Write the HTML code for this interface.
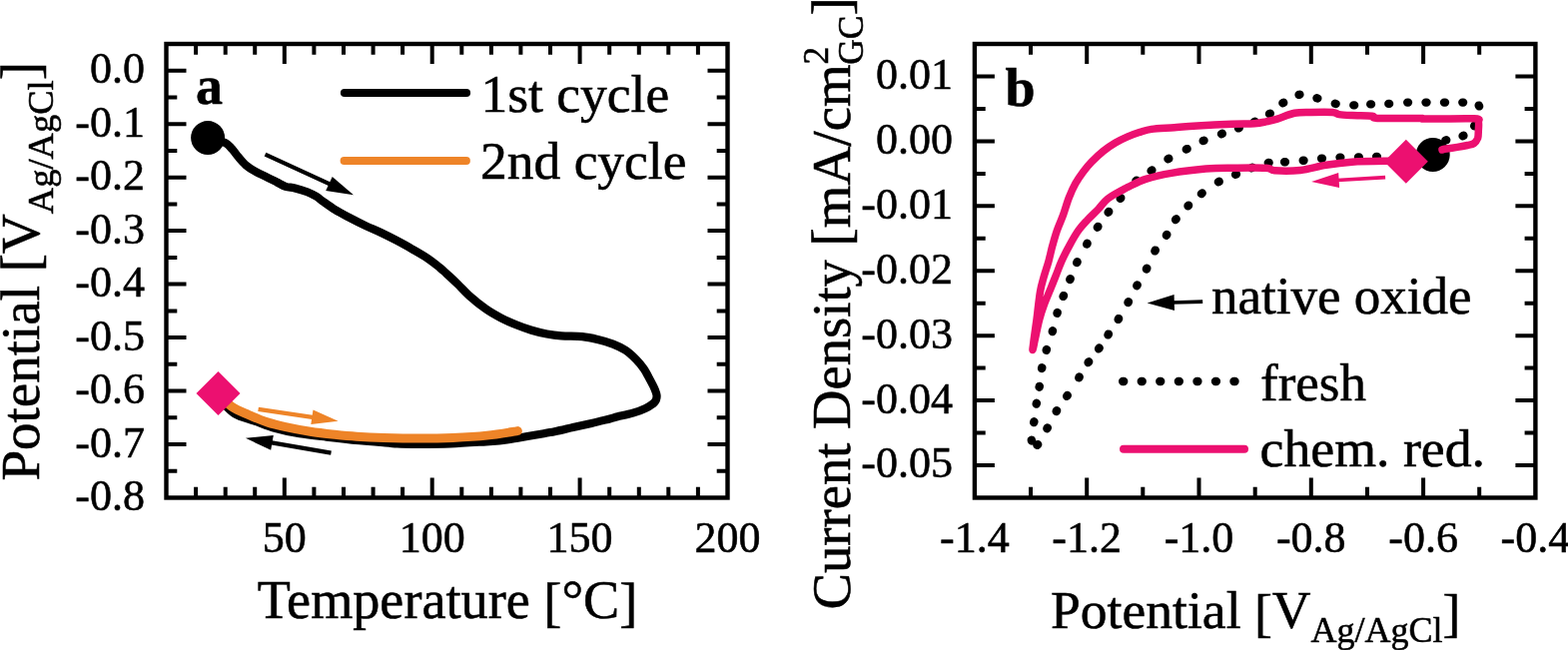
<!DOCTYPE html>
<html><head><meta charset="utf-8"><title>Figure</title>
<style>html,body{margin:0;padding:0;background:#fff;width:1570px;height:651px;overflow:hidden}
svg{display:block}text{font-family:'Liberation Serif','Times New Roman',serif;fill:#000;stroke:#000;stroke-width:0.55px}</style>
</head><body>
<svg width="1570" height="651" viewBox="0 0 1570 651" font-family="'Liberation Serif','Times New Roman',serif">
<path d="M196.1,498.5 v-10.8 M196.1,44 v10.8 M225.7,498.5 v-10.8 M225.7,44 v10.8 M255.2,498.5 v-10.8 M255.2,44 v10.8 M284.8,498.5 v-20 M284.8,44 v20 M314.4,498.5 v-10.8 M314.4,44 v10.8 M344,498.5 v-10.8 M344,44 v10.8 M373.6,498.5 v-10.8 M373.6,44 v10.8 M403.1,498.5 v-10.8 M403.1,44 v10.8 M432.7,498.5 v-20 M432.7,44 v20 M462.3,498.5 v-10.8 M462.3,44 v10.8 M491.9,498.5 v-10.8 M491.9,44 v10.8 M521.4,498.5 v-10.8 M521.4,44 v10.8 M551,498.5 v-10.8 M551,44 v10.8 M580.6,498.5 v-20 M580.6,44 v20 M610.2,498.5 v-10.8 M610.2,44 v10.8 M639.8,498.5 v-10.8 M639.8,44 v10.8 M669.3,498.5 v-10.8 M669.3,44 v10.8 M698.9,498.5 v-10.8 M698.9,44 v10.8 M166.5,70.7 h20 M728.5,70.7 h-20 M166.5,97.5 h10.8 M728.5,97.5 h-10.8 M166.5,124.2 h20 M728.5,124.2 h-20 M166.5,150.9 h10.8 M728.5,150.9 h-10.8 M166.5,177.7 h20 M728.5,177.7 h-20 M166.5,204.4 h10.8 M728.5,204.4 h-10.8 M166.5,231.1 h20 M728.5,231.1 h-20 M166.5,257.9 h10.8 M728.5,257.9 h-10.8 M166.5,284.6 h20 M728.5,284.6 h-20 M166.5,311.4 h10.8 M728.5,311.4 h-10.8 M166.5,338.1 h20 M728.5,338.1 h-20 M166.5,364.8 h10.8 M728.5,364.8 h-10.8 M166.5,391.6 h20 M728.5,391.6 h-20 M166.5,418.3 h10.8 M728.5,418.3 h-10.8 M166.5,445 h20 M728.5,445 h-20 M166.5,471.8 h10.8 M728.5,471.8 h-10.8" stroke="#000" stroke-width="4.0" fill="none"/>
<rect x="166.5" y="44" width="562" height="454.5" fill="none" stroke="#000" stroke-width="4.4"/>
<text x="145" y="83.3" text-anchor="end" font-size="44">0.0</text>
<text x="145" y="136.8" text-anchor="end" font-size="44">-0.1</text>
<text x="145" y="190.3" text-anchor="end" font-size="44">-0.2</text>
<text x="145" y="243.7" text-anchor="end" font-size="44">-0.3</text>
<text x="145" y="297.2" text-anchor="end" font-size="44">-0.4</text>
<text x="145" y="350.7" text-anchor="end" font-size="44">-0.5</text>
<text x="145" y="404.2" text-anchor="end" font-size="44">-0.6</text>
<text x="145" y="457.6" text-anchor="end" font-size="44">-0.7</text>
<text x="145" y="511.1" text-anchor="end" font-size="44">-0.8</text>
<text x="284.8" y="552.5" text-anchor="middle" font-size="44">50</text>
<text x="432.7" y="552.5" text-anchor="middle" font-size="44">100</text>
<text x="580.6" y="552.5" text-anchor="middle" font-size="44">150</text>
<text x="728.5" y="552.5" text-anchor="middle" font-size="44">200</text>
<text x="448" y="619" text-anchor="middle" font-size="54.2">Temperature <tspan dy="2.5">[</tspan><tspan dy="-2.5">°C</tspan><tspan dy="2.5">]</tspan></text>
<text transform="translate(38.5,481.5) rotate(-90)" x="0" y="0" font-size="55">Potential [V<tspan font-size="36.5" dy="14">Ag/AgCl</tspan><tspan dy="-14">]</tspan></text>
<text x="196" y="104" font-size="54" font-weight="bold">a</text>
<path d="M345,93 H467" stroke="#000" stroke-width="8.2" stroke-linecap="round"/>
<path d="M344.5,161 H467" stroke="#EE8428" stroke-width="7.8" stroke-linecap="round"/>
<text x="481.5" y="111.5" font-size="53.5">1st cycle</text>
<text x="481" y="179" font-size="53.5">2nd cycle</text>
<path d="M208.4,138.2 C211.2,139 221.4,141.2 225.4,143 C229.4,144.8 230.1,146.9 232.3,149.2 C234.5,151.5 236.1,154.2 238.4,156.9 C240.7,159.6 243.3,162.9 246.1,165.3 C248.9,167.7 252,169.6 255.3,171.5 C258.6,173.4 262.5,175.1 266.1,176.9 C269.7,178.7 273.5,180.5 276.8,182.2 C280.1,183.8 282.9,185.8 286,186.8 C289.1,187.8 291.7,187.5 295.3,188.4 C298.9,189.3 304,190.8 307.6,192.2 C311.2,193.6 314.2,195.3 316.8,196.8 C319.4,198.3 319.8,199.2 322.9,201.4 C326,203.6 330.8,207.2 335.4,210 C340,212.8 345.6,215.7 350.7,218.4 C355.8,221.1 361,223.7 366.1,226.1 C371.2,228.5 376.4,230.6 381.5,233 C386.6,235.4 391.7,238 396.8,240.7 C401.9,243.4 407.1,246.2 412.2,249.2 C417.3,252.1 423,255.3 427.6,258.4 C432.2,261.5 436.6,265 440,267.7 C443.4,270.4 444.6,271.8 447.7,274.6 C450.8,277.4 454.6,280.9 458.4,284.6 C462.2,288.3 466.1,292.8 470.7,296.9 C475.3,301 481,305.6 486.1,309.2 C491.2,312.8 496.4,315.7 501.5,318.4 C506.6,321.1 511.7,323.2 516.8,325.3 C521.9,327.4 527.1,329.2 532.2,330.7 C537.3,332.2 542.6,333.6 547.6,334.5 C552.6,335.4 556.1,335.9 562,336.3 C567.9,336.8 576.9,336.6 583,337.2 C589.1,337.8 593.3,338.8 598.4,340 C603.5,341.2 609.2,342.8 613.8,344.6 C618.4,346.4 622.3,348.1 626.1,350.7 C629.9,353.2 633.7,356.8 636.8,359.9 C639.9,363 642.2,365.9 644.5,369.2 C646.8,372.5 648.8,376.6 650.6,379.9 C652.4,383.2 654.1,386.3 655.3,389.1 C656.5,391.9 657.6,394.5 657.6,396.8 C657.6,399.1 657.2,400.9 655.3,403 C653.4,405.1 649.6,407.3 646,409.1 C642.4,410.9 638.3,412.3 633.7,413.7 C629.1,415.1 622.2,416.4 618.4,417.3 C614.5,418.2 615,418.3 610.6,419.4 C606.2,420.5 598.3,422.6 592.2,424 C586.1,425.4 579.9,426.7 573.8,428.1 C567.6,429.5 561.4,431.1 555.3,432.3 C549.1,433.5 543,434.4 536.9,435.5 C530.8,436.6 524.5,437.7 518.4,438.7 C512.2,439.7 505.2,440.9 500,441.5 C494.8,442.1 495.1,441.8 487,442.3 C478.9,442.8 462.7,444 451.3,444.4 C439.9,444.8 427.7,444.8 418.8,444.8 C409.9,444.8 404.6,444.8 397.8,444.4 C391,444 384.2,443.1 377.9,442.6 C371.6,442.1 368.3,442 359.8,441.2 C351.3,440.4 336.9,438.8 326.9,437.6 C316.9,436.5 308.5,435.7 300,434.3 C291.5,432.9 283.5,431.1 276,429 C268.5,426.9 261.8,424 255,421.6 C248.2,419.2 240.7,417.7 235.2,414.4 C229.7,411.1 224.2,404.1 222,402" stroke="#000" stroke-width="8.2" fill="none" stroke-linejoin="round" stroke-linecap="round"/>
<path d="M218.4,394 C220.7,396.2 226.9,403.7 232,407.3 C237.1,410.9 243.3,413 249.2,415.6 C255.1,418.2 261.5,420.9 267.6,422.9 C273.7,424.9 278.8,426.1 286,427.7 C293.2,429.3 302.4,431 310.6,432.3 C318.8,433.6 327.5,434.5 335.2,435.3 C342.9,436.1 348.8,436.7 357,437.2 C365.2,437.7 374.1,438.1 384.4,438.4 C394.7,438.7 407.3,439 418.8,439 C430.3,439 441.7,438.9 453.2,438.4 C464.7,437.9 477.3,437.2 487.6,436.1 C497.9,435.1 510,432.9 515.1,432.1 C520.2,431.4 517.5,431.7 518,431.6" stroke="#EE8428" stroke-width="9" fill="none" stroke-linejoin="round" stroke-linecap="round"/>
<circle cx="208.1" cy="138.1" r="17" fill="#000"/>
<path d="M218.5,372 L240.5,394 L218.5,416 L196.5,394 Z" fill="#EC1070"/>
<path d="M265.5,154.6 L331.3,184.8" stroke="#000" stroke-width="4.2"/><path d="M354,195.2 L326.2,191 L332.7,176.9 Z" fill="#000"/>
<path d="M258.6,409.8 L314.4,418.1" stroke="#EE8428" stroke-width="4.3"/><path d="M338.6,421.7 L311.3,425 L313.5,410.6 Z" fill="#EE8428"/>
<path d="M331.5,453.7 L270.5,443.1" stroke="#000" stroke-width="4.3"/><path d="M245.9,438.8 L273.8,436 L271.2,450.8 Z" fill="#000"/>
<path d="M1032,498.5 v-10.8 M1032,44 v10.8 M1088.2,498.5 v-20 M1088.2,44 v20 M1144.3,498.5 v-10.8 M1144.3,44 v10.8 M1200.5,498.5 v-20 M1200.5,44 v20 M1256.7,498.5 v-10.8 M1256.7,44 v10.8 M1312.8,498.5 v-20 M1312.8,44 v20 M1369,498.5 v-10.8 M1369,44 v10.8 M1425.1,498.5 v-20 M1425.1,44 v20 M1481.2,498.5 v-10.8 M1481.2,44 v10.8 M975.9,76.5 h20 M1537.4,76.5 h-20 M975.9,108.9 h10.8 M1537.4,108.9 h-10.8 M975.9,141.4 h20 M1537.4,141.4 h-20 M975.9,173.9 h10.8 M1537.4,173.9 h-10.8 M975.9,206.3 h20 M1537.4,206.3 h-20 M975.9,238.8 h10.8 M1537.4,238.8 h-10.8 M975.9,271.2 h20 M1537.4,271.2 h-20 M975.9,303.7 h10.8 M1537.4,303.7 h-10.8 M975.9,336.2 h20 M1537.4,336.2 h-20 M975.9,368.6 h10.8 M1537.4,368.6 h-10.8 M975.9,401.1 h20 M1537.4,401.1 h-20 M975.9,433.6 h10.8 M1537.4,433.6 h-10.8 M975.9,466 h20 M1537.4,466 h-20" stroke="#000" stroke-width="4.0" fill="none"/>
<rect x="975.9" y="44" width="561.5" height="454.5" fill="none" stroke="#000" stroke-width="4.4"/>
<text x="954" y="88.9" text-anchor="end" font-size="44">0.01</text>
<text x="954" y="153.8" text-anchor="end" font-size="44">0.00</text>
<text x="954" y="218.7" text-anchor="end" font-size="44">-0.01</text>
<text x="954" y="283.6" text-anchor="end" font-size="44">-0.02</text>
<text x="954" y="348.6" text-anchor="end" font-size="44">-0.03</text>
<text x="954" y="413.5" text-anchor="end" font-size="44">-0.04</text>
<text x="954" y="478.4" text-anchor="end" font-size="44">-0.05</text>
<text x="975.9" y="552.5" text-anchor="middle" font-size="44">-1.4</text>
<text x="1088.2" y="552.5" text-anchor="middle" font-size="44">-1.2</text>
<text x="1200.5" y="552.5" text-anchor="middle" font-size="44">-1.0</text>
<text x="1312.8" y="552.5" text-anchor="middle" font-size="44">-0.8</text>
<text x="1425.1" y="552.5" text-anchor="middle" font-size="44">-0.6</text>
<text x="1537.4" y="552.5" text-anchor="middle" font-size="44">-0.4</text>
<text x="1052" y="629" font-size="53.6">Potential <tspan dy="2.5">[</tspan><tspan dy="-2.5">V</tspan><tspan font-size="36" dy="13.7">Ag/AgCl</tspan><tspan dy="-11.2">]</tspan></text>
<text transform="translate(851,610.4) rotate(-90)" x="0" y="0" font-size="54.6">Current Density [mA/cm<tspan font-size="35.5" dy="-22">2</tspan><tspan font-size="35.5" dx="-18" dy="35">GC</tspan><tspan dy="-13">]</tspan></text>
<text x="1006.5" y="106" font-size="54" font-weight="bold">b</text>
<text x="1213" y="313.5" font-size="53">native oxide</text>
<path d="M1204.2,302.2 L1173.8,303" stroke="#000" stroke-width="3.7"/><path d="M1148.6,303.6 L1175.6,294.9 L1176,310.9 Z" fill="#000"/>
<path d="M1124.2,382 L1125.2,382 M1142.8,382 L1143.7,382 M1161.3,382 L1162.2,382 M1179.9,382 L1180.8,382 M1198.5,382 L1199.4,382 M1217,382 L1217.9,382 M1235.5,382 L1236.5,382" stroke="#000" stroke-width="8.4" stroke-linecap="round" fill="none"/>
<text x="1262" y="400.5" font-size="53">fresh</text>
<path d="M1125,449.7 H1246" stroke="#EC1070" stroke-width="8" stroke-linecap="round"/>
<text x="1261.5" y="466.8" font-size="53.8">chem. red.</text>
<path d="M1378.9,157 L1378.1,157 M1360.8,157.4 L1360,157.4 M1342.3,157.6 L1341.5,157.6 M1323.9,158.8 L1323.1,158.8 M1305.5,160.8 L1304.7,160.8 M1286.9,162.2 L1286.1,162.2 M1270.6,162.9 L1269.8,163.1 M1253.9,167.8 L1253.1,168.2 M1237.9,174.4 L1237.1,174.8 M1220.7,181.8 L1219.9,182.2 M1203.7,193.5 L1202.9,194.1 M1190.1,205.7 L1189.5,206.3 M1177.7,219.3 L1177.1,220.1 M1168.3,234.9 L1167.9,235.7 M1156.8,250.6 L1156.4,251.4 M1148.3,268.7 L1147.9,269.5 M1138.7,285.4 L1138.3,286.2 M1129.9,302.2 L1129.5,303 M1120.1,319.1 L1119.7,319.9 M1109.9,334.6 L1109.5,335.4 M1100.7,348.5 L1100.1,349.3 M1090.2,362.3 L1089.6,363.1 M1080.7,377.5 L1080.3,378.3 M1068.8,396 L1068.2,396.8 M1058.1,411.2 L1057.7,412 M1048.8,428.4 L1048.4,429.2 M1039.2,445.2 L1038.4,445.8 M1033,441.5 L1032.8,440.7 M1035.2,423.1 L1035.4,422.3 M1037.7,404.6 L1037.9,403.8 M1040.6,387.7 L1040.8,386.9 M1043.1,369 L1043.3,368.2 M1047.7,350.8 L1047.9,350 M1053.8,332.1 L1054,331.3 M1058.5,313.8 L1058.7,313 M1064.6,296.9 L1065,296.1 M1071.3,280 L1071.7,279.2 M1078.2,263.1 L1078.6,262.3 M1088.2,244.6 L1088.6,243.8 M1098.8,227.7 L1099.4,226.9 M1109.6,212.7 L1110.2,211.9 M1121.7,198.9 L1122.3,198.3 M1137.4,181.3 L1138,180.7 M1152.6,171.1 L1153.4,170.5 M1169.5,159.2 L1170.3,158.8 M1187.8,149.5 L1188.6,149.1 M1204.7,141.1 L1205.5,140.7 M1223,134.2 L1223.8,133.8 M1240,128.4 L1240.8,128 M1255.7,122.2 L1256.5,121.8 M1271,114.1 L1271.8,113.7 M1284.4,103.2 L1285.2,102.8 M1300.6,94.9 L1301.4,94.7 M1318.5,98.3 L1319.3,98.5 M1336.8,103.8 L1337.6,104 M1355.3,105.4 L1356.1,105.4 M1372.2,104.4 L1373,104.4 M1390.3,103.9 L1391.1,103.9 M1409.2,102.6 L1410,102.6 M1427.5,102.6 L1428.5,102.6 M1446,102.6 L1447,102.6 M1464.3,102.6 L1465.1,102.6 M1480.7,105.6 L1481.1,106.4 M1476.6,125.4 L1476.2,126.2 M1465.4,135.8 L1464.6,136.2 M1448.2,140.3 L1447.4,140.5" stroke="#000" stroke-width="8.4" stroke-linecap="round" fill="none"/>
<circle cx="1434.7" cy="155" r="17" fill="#000"/>
<path d="M1407.8,161.5 C1404.5,161.5 1397,161.2 1388,161.3 C1379,161.4 1363.6,161.5 1353.6,162.2 C1343.6,162.9 1336.4,163.9 1327.8,165.3 C1319.2,166.7 1310.6,169.6 1302,170.5 C1293.4,171.4 1281.9,171.2 1276.2,170.8 C1270.5,170.4 1274.8,168.6 1267.6,168.2 C1260.4,167.8 1243.2,168 1233.2,168.2 C1223.2,168.3 1217.4,168.2 1207.4,169.1 C1197.4,170 1183,171.7 1173,173.4 C1163,175.1 1154.4,177.1 1147.2,179.4 C1140,181.7 1133.8,185.3 1130,187.1 C1126.2,188.8 1128,187.9 1124.5,189.9 C1121,191.9 1113.2,195.9 1109.1,199.1 C1105,202.3 1103.2,205.7 1099.9,209.2 C1096.6,212.7 1092.4,216.4 1089.1,220 C1085.8,223.6 1083,226.3 1079.9,230.7 C1076.8,235 1073.5,241 1070.7,246.1 C1067.9,251.2 1065.3,256.3 1063,261.4 C1060.7,266.5 1059,271.7 1056.9,276.8 C1054.9,281.9 1052.6,287.5 1050.7,292.2 C1048.8,296.9 1047.2,300.4 1045.5,305 C1043.8,309.6 1042.2,314.2 1040.7,320 C1039.1,325.8 1037.5,334.9 1036.3,340 C1035.2,345.1 1034.2,350.5 1034,350.5 C1033.8,350.5 1034.6,345.1 1035.2,340 C1035.9,334.9 1036.9,328 1038,320 C1039,312 1040.3,299.4 1041.5,292.2 C1042.7,285 1043.9,281.9 1045.3,276.8 C1046.7,271.7 1048.6,266.5 1050,261.4 C1051.4,256.3 1052.4,251.2 1053.8,246.1 C1055.2,241 1056.6,235.8 1058.4,230.7 C1060.2,225.6 1062.5,220.8 1064.5,215.4 C1066.5,210 1068.2,203.3 1070.3,198 C1072.4,192.7 1074.5,188 1076.9,183.7 C1079.3,179.4 1081.8,175.8 1084.5,172.2 C1087.2,168.6 1089.7,165.6 1093,162.2 C1096.3,158.8 1100.5,154.7 1104.5,151.5 C1108.5,148.3 1112.7,145.4 1116.8,143 C1120.9,140.6 1125,138.7 1129.1,136.9 C1133.2,135.1 1137.5,133.6 1141.5,132.3 C1145.5,131.1 1147.2,130.2 1152.9,129.4 C1158.6,128.6 1168.2,128.3 1175.9,127.7 C1183.6,127.1 1189.2,126.6 1198.8,126 C1208.3,125.4 1223.7,124.6 1233.2,124.2 C1242.8,123.8 1250.4,124.1 1256.1,123.7 C1261.8,123.3 1263.8,122.7 1267.6,121.9 C1271.4,121.1 1274.2,120.5 1279,119.1 C1283.8,117.7 1290.6,114.4 1296.2,113.3 C1301.8,112.2 1306.3,112.6 1312.7,112.4 C1319.1,112.2 1329.7,112 1334.4,112.4 C1339.1,112.8 1337.6,114.1 1340.8,114.6 C1344,115.1 1348,115.3 1353.5,115.6 C1359,115.9 1369.7,115.7 1373.9,116.2 C1378.2,116.7 1371.2,118 1379,118.4 C1386.8,118.8 1412.9,118.3 1421,118.4 C1429.1,118.5 1418.3,119 1427.4,119.1 C1436.5,119.2 1467,118.3 1475.8,118.8 C1484.6,119.3 1479.5,119.9 1480.3,121.9 C1481,123.9 1480.4,128.1 1480.3,130.9 C1480.2,133.7 1480.3,136.4 1479.6,138.5 C1478.8,140.6 1477.5,142.4 1475.8,143.6 C1474.1,144.8 1472.2,144.9 1469.4,145.5 C1466.6,146.1 1463,146.8 1459.2,147.4 C1455.4,148 1449,148.9 1446.5,149.3 C1444,149.7 1444.4,149.9 1444,150" stroke="#EC1070" stroke-width="7.5" fill="none" stroke-linecap="round" stroke-linejoin="round"/>
<path d="M1407.8,139.8 L1429.8,161.8 L1407.8,183.8 L1385.8,161.8 Z" fill="#EC1070"/>
<path d="M1387.1,177.7 L1338.7,180.5" stroke="#EC1070" stroke-width="3.7"/><path d="M1313.1,182 L1340.2,172.9 L1341.1,187.9 Z" fill="#EC1070"/>
</svg>
</body></html>
